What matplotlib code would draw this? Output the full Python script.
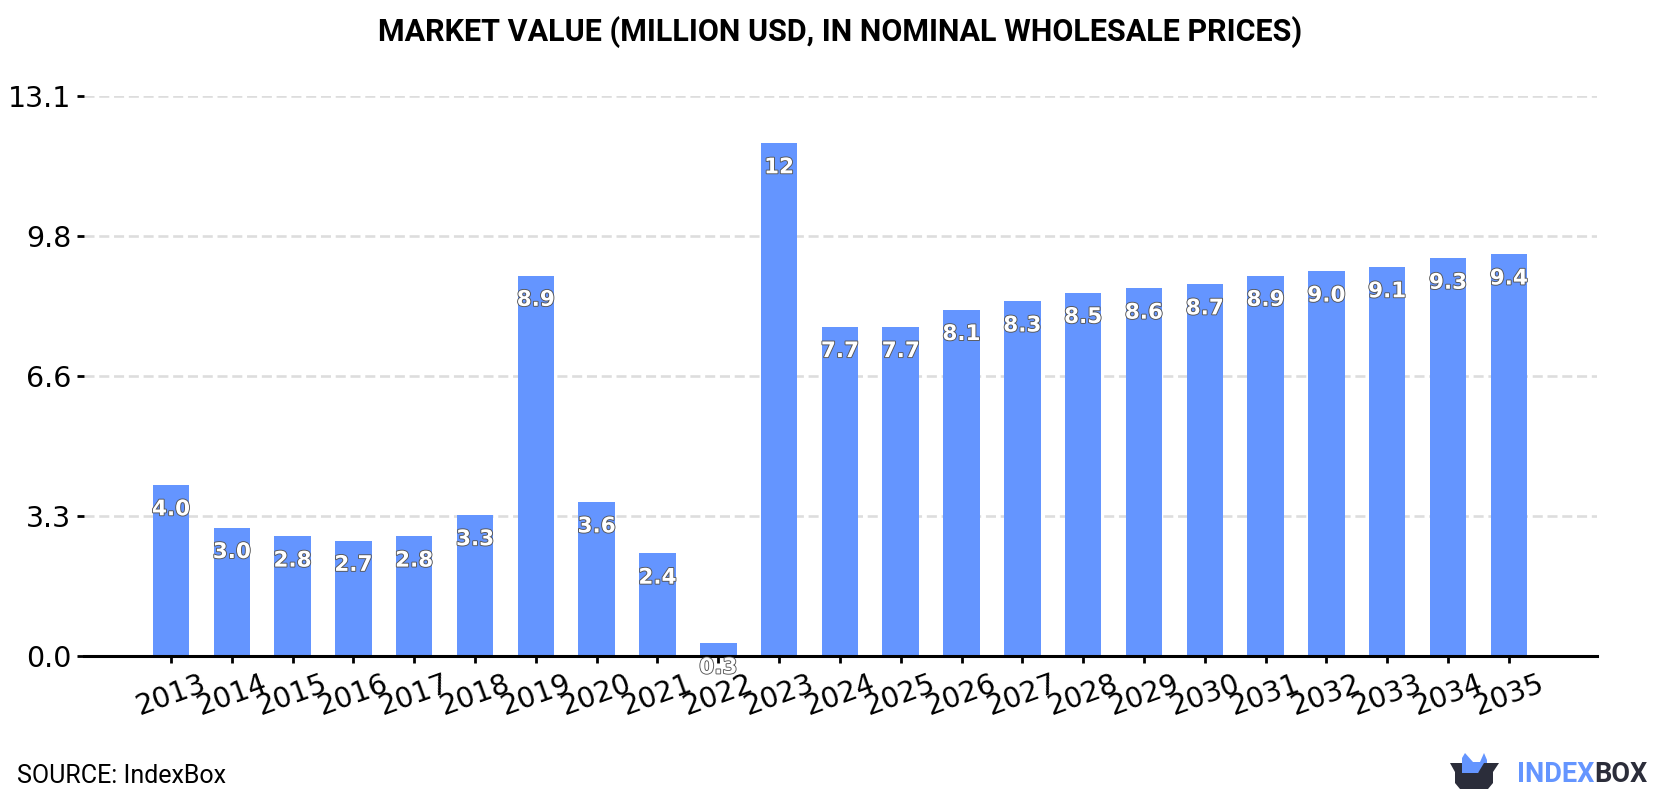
import matplotlib
matplotlib.use("Agg")
import matplotlib.pyplot as plt
import matplotlib.patheffects as pe
from matplotlib.patches import Polygon

years = [str(y) for y in range(2013, 2036)]
values = [4.0, 3.0, 2.8, 2.7, 2.8, 3.3, 8.9, 3.6, 2.4, 0.3, 12, 7.7, 7.7,
          8.1, 8.3, 8.5, 8.6, 8.7, 8.9, 9.0, 9.1, 9.3, 9.4]
value_labels = ["4.0", "3.0", "2.8", "2.7", "2.8", "3.3", "8.9", "3.6", "2.4", "0.3", "12", "7.7", "7.7",
                "8.1", "8.3", "8.5", "8.6", "8.7", "8.9", "9.0", "9.1", "9.3", "9.4"]
y_ticks = [0, 3.275, 6.55, 9.825, 13.1]
y_tick_labels = ["0.0", "3.3", "6.6", "9.8", "13.1"]

BLUE = "#6495ff"
DARK = "#2b2d3a"
W, H = 1680, 800

fig = plt.figure(figsize=(W / 100, H / 100), dpi=100, facecolor="white")
ax = fig.add_axes([84 / W, 1 - 656 / H, (1597 - 84) / W, (656 - 96) / H])

x = list(range(len(years)))
ax.bar(x, values, width=0.6, color=BLUE, zorder=3)
ax.set_xlim(-1.43, 23.45)
ax.set_ylim(0, 13.1)

ax.set_yticks(y_ticks)
ax.set_yticklabels(y_tick_labels)
ax.set_xticks(x)
ax.set_xticklabels(years, rotation=20, ha="center")
ax.tick_params(axis="y", labelsize=20.5, length=5, width=2, pad=4)
ax.tick_params(axis="x", labelsize=20.5, length=5, width=2, pad=5)
ax.grid(axis="y", color="#dddddd", linewidth=1.9, linestyle=(0, (3.8, 1.8)), zorder=1)
ax.set_axisbelow(True)
for side in ["top", "right", "left"]:
    ax.spines[side].set_visible(False)
ax.spines["bottom"].set_linewidth(2.2)
ax.spines["bottom"].set_zorder(4)

# value labels sit just under the top of each bar
outline = [pe.withStroke(linewidth=1.3, foreground="#555555")]
for xi, v, lab in zip(x, values, value_labels):
    ax.annotate(lab, (xi, v), xytext=(0, -17.5), textcoords="offset points",
                ha="center", va="center", fontsize=15.5, fontweight="bold",
                family="DejaVu Sans", color="white", path_effects=outline,
                zorder=5, annotation_clip=False)

fig.text(0.5, 1 - 32 / H, "MARKET VALUE (MILLION USD, IN NOMINAL WHOLESALE PRICES)",
         ha="center", va="center", fontsize=22, fontweight="bold",
         family="Roboto", color="black")
fig.text(17 / W, 1 - 776 / H, "SOURCE: IndexBox", ha="left", va="center",
         fontsize=18, family="Roboto", color="black")

# logo, drawn on an overlay in pixel coordinates
logo = fig.add_axes([0, 0, 1, 1], facecolor="none")
logo.set_xlim(0, W)
logo.set_ylim(H, 0)
logo.axis("off")
logo.add_patch(Polygon([(1462, 773), (1462, 758), (1465, 753), (1473, 762), (1480, 762),
                        (1484, 753), (1487, 760), (1487, 764), (1478, 773)],
                       closed=True, color=BLUE, lw=0))
logo.add_patch(Polygon([(1450, 763), (1462, 763), (1462, 773), (1478, 773), (1484, 763),
                        (1499, 763), (1493, 772), (1493, 783), (1488, 789), (1460, 789),
                        (1455, 783), (1455, 772)],
                       closed=True, color=DARK, lw=0))
brand = logo.text(1517, 774, "INDEX", ha="left", va="center", fontsize=19.5,
                  fontweight="bold", family="Roboto", color=BLUE)
logo.annotate("BOX", xy=(1, 0.5), xycoords=brand, ha="left", va="center", fontsize=19.5,
              fontweight="bold", family="Roboto", color=DARK)

fig.savefig("out.png", dpi=100)
